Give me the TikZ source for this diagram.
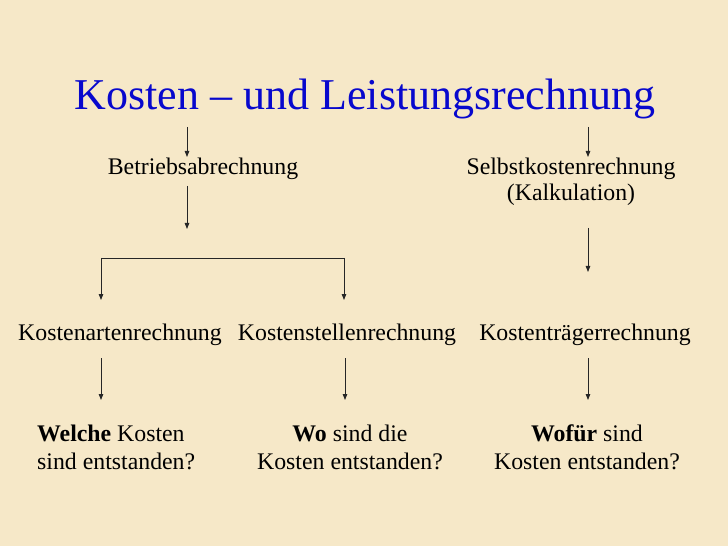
\documentclass[tikz,border=0pt]{standalone}
\usepackage{fontspec}
\setmainfont{Liberation Serif}
\usetikzlibrary{arrows.meta}
\definecolor{parch}{RGB}{246,232,200}
\definecolor{titleblue}{RGB}{8,8,205}
\tikzset{
  arr/.style={draw=black!85, line width=0.8bp, -{Triangle[length=6bp,width=4.5bp]}},
  lbl/.style={font=\fontsize{23.8bp}{28bp}\selectfont, inner sep=0pt, anchor=base},
  plain/.style={draw=black!85, line width=0.8bp}
}
\begin{document}
\begin{tikzpicture}[x=1bp,y=-1bp]
\fill[parch] (0,0) rectangle (728,546);
\useasboundingbox (0,0) rectangle (728,546);
% title
\node[anchor=base, inner sep=0pt, font=\fontsize{44bp}{48bp}\selectfont, text=titleblue] (title) at (365,110) {Kosten -- und Leistungsrechnung};
% second row
\node[lbl] (betr) at (203,175) {Betriebsabrechnung};
\node[lbl] (selbst) at (571,175) {Selbstkostenrechnung};
\node[lbl] (kalk) at (571,201) {(Kalkulation)};
% third row
\node[lbl] (arten) at (120,340) {Kostenartenrechnung};
\node[lbl] (stellen) at (347,340) {Kostenstellenrechnung};
\node[lbl] (traeger) at (585,340) {Kostenträgerrechnung};
% questions
\node[lbl, anchor=base west, align=left] (q1) at (37,469) {\textbf{Welche} Kosten\\sind entstanden?};
\node[lbl, align=center] (q2) at (350,469) {\textbf{Wo} sind die\\Kosten entstanden?};
\node[lbl, align=center] (q3) at (587,469) {\textbf{Wofür} sind\\Kosten entstanden?};
% coordinates for arrows
\coordinate (a1s) at (187,127);
\coordinate (a1e) at (187,157);
\coordinate (a2s) at (588,127);
\coordinate (a2e) at (588,157);
\coordinate (a3s) at (187,186);
\coordinate (a3e) at (187,229);
\coordinate (a4s) at (588,228);
\coordinate (a4e) at (588,272);
\coordinate (bl) at (101,258);
\coordinate (br) at (344,258);
\coordinate (ble) at (101,300);
\coordinate (bre) at (344,300);
\coordinate (b1s) at (101,358);
\coordinate (b1e) at (101,400);
\coordinate (b2s) at (345,358);
\coordinate (b2e) at (345,400);
\coordinate (b3s) at (588,358);
\coordinate (b3e) at (588,400);
\draw[arr] (a1s) -- (a1e);
\draw[arr] (a2s) -- (a2e);
\draw[arr] (a3s) -- (a3e);
\draw[arr] (a4s) -- (a4e);
\draw[plain] (bl) -- (br);
\draw[arr] (bl) -- (ble);
\draw[arr] (br) -- (bre);
\draw[arr] (b1s) -- (b1e);
\draw[arr] (b2s) -- (b2e);
\draw[arr] (b3s) -- (b3e);
\end{tikzpicture}
\end{document}
